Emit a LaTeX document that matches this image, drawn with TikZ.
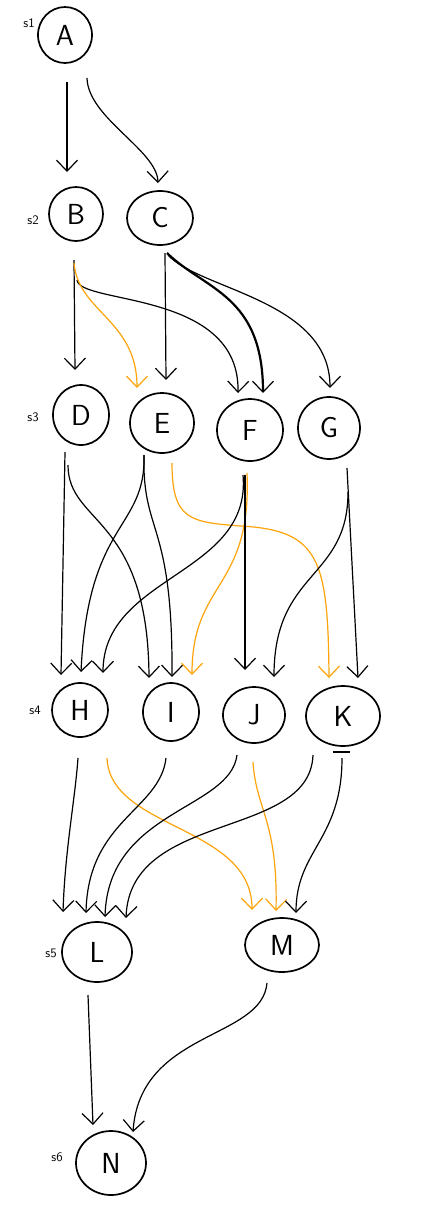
\documentclass[tikz,border=0pt]{standalone}
\usepackage{fontspec}
\usetikzlibrary{arrows.meta,shapes.geometric,calc}
\definecolor{hlorange}{RGB}{252,164,10}
\tikzset{
  st/.style={draw, ellipse, line width=1.7pt, inner sep=0pt, font=\sffamily\fontsize{29}{31}\selectfont},
  lvl/.style={font=\sffamily\fontsize{13}{14}\selectfont, inner sep=0pt},
  edge/.style={line width=1.2pt, -{Straight Barb[length=11pt,width=21pt,line width=1.2pt]}},
  hot/.style={edge, draw=hlorange, -{Straight Barb[length=11pt,width=21pt,line width=1.2pt,color=hlorange]}},
}
\begin{document}
\begin{tikzpicture}[x=1pt,y=-1pt]
\useasboundingbox (0,0) rectangle (446,1216);
\fill[white] (0,0) rectangle (446,1216);
% states
\node[st, minimum width=54pt, minimum height=56pt] (A) at (65,35) {A};
\node[st, minimum width=54pt, minimum height=54pt] (B) at (76,214) {B};
\node[st, minimum width=66pt, minimum height=54pt] (C) at (160,218) {C};
\node[st, minimum width=56pt, minimum height=60pt] (D) at (81,415) {D};
\node[st, minimum width=64pt, minimum height=60pt] (E) at (162,423) {E};
\node[st, minimum width=66pt, minimum height=62pt] (F) at (250,430) {F};
\node[st, minimum width=62pt, minimum height=62pt] (G) at (329,428) {G};
\node[st, minimum width=56pt, minimum height=54pt] (H) at (80,710) {H};
\node[st, minimum width=56pt, minimum height=58pt] (I) at (171,712) {I};
\node[st, minimum width=62pt, minimum height=56pt] (J) at (254,715) {J};
\node[st, minimum width=74pt, minimum height=60pt] (K) at (343,716) {K};
\node[st, minimum width=70pt, minimum height=60pt] (L) at (97,952) {L};
\node[st, minimum width=74pt, minimum height=54pt] (M) at (282,945) {M};
\node[st, minimum width=70pt, minimum height=64pt] (N) at (111,1163) {N};
% level labels
\node[lvl] (s1) at (29,23) {s1};
\node[lvl] (s2) at (33,220) {s2};
\node[lvl] (s3) at (33,417) {s3};
\node[lvl] (s4) at (35,710) {s4};
\node[lvl] (s5) at (51,953) {s5};
\node[lvl] (s6) at (57,1157) {s6};
% level 1 -> 2
\draw[edge] ($(A)+(2,47)$) -- ($(B)+(-9,-42)$);
\draw[edge] ($(A)+(22,43)$) .. controls (88,118) and (157,150) .. ($(C)+(-2,-35)$);
% level 2 -> 3
\draw[edge] ($(B)+(-2,46)$) -- ($(D)+(-6,-45)$);
\draw[edge] ($(B)+(1,66)$) .. controls (80,305) and (240,290) .. ($(F)+(-12,-37)$);
\draw[hot] ($(B)+(-2,49)$) .. controls (78,312) and (137,320) .. ($(E)+(-25,-35)$);
\draw[edge] ($(C)+(5,35)$) -- ($(E)+(4,-43)$);
\draw[edge, line width=2.2pt] ($(C)+(7,35)$) .. controls (205,290) and (263,295) .. ($(F)+(13,-37)$);
\draw[edge] ($(C)+(8,37)$) .. controls (200,290) and (330,300) .. ($(G)+(1,-40)$);
% level 3 -> 4
\draw[edge] ($(D)+(-16,37)$) -- ($(H)+(-19,-35)$);
\draw[edge] ($(D)+(-13,50)$) .. controls (68,525) and (148,515) .. ($(I)+(-22,-34)$);
\draw[edge] ($(E)+(-18,32)$) .. controls (146,530) and (88,520) .. ($(H)+(1,-38)$);
\draw[edge] ($(E)+(-18,32)$) .. controls (142,535) and (173,520) .. ($(I)+(1,-35)$);
\draw[hot] ($(E)+(10,40)$) .. controls (172,520) and (190,522) .. (240,526) .. controls (320,530) and (328,560) .. ($(K)+(-14,-38)$);
\draw[edge] ($(F)+(-7,45)$) .. controls (252,575) and (103,575) .. ($(H)+(23,-37)$);
\draw[hot] ($(F)+(-3,43)$) .. controls (252,590) and (192,580) .. ($(I)+(21,-37)$);
\draw[edge] ($(F)+(-5,45)$) -- ($(J)+(-9,-45)$);
\draw[edge] ($(G)+(19,64)$) .. controls (348,580) and (274,570) .. ($(J)+(20,-38)$);
\draw[edge] ($(G)+(18,40)$) -- ($(K)+(15,-38)$);
% level 4 -> 5
\draw[edge] ($(H)+(-2,48)$) .. controls (75,800) and (65,850) .. ($(L)+(-34,-40)$);
\draw[hot] ($(H)+(27,48)$) .. controls (110,830) and (252,825) .. ($(M)+(-30,-35)$);
\draw[edge] ($(I)+(-5,46)$) .. controls (160,810) and (88,820) .. ($(L)+(-11,-39)$);
\draw[edge] ($(J)+(-17,40)$) .. controls (230,810) and (108,810) .. ($(L)+(8,-35)$);
\draw[hot] ($(J)+(-1,47)$) .. controls (256,810) and (278,820) .. ($(M)+(-6,-34)$);
\draw[edge] ($(K)+(-30,39)$) .. controls (310,840) and (130,810) .. ($(L)+(29,-34)$);
\draw[edge] ($(K)+(-1,42)$) .. controls (342,840) and (296,850) .. ($(M)+(14,-32)$);
\draw[line width=1.2pt] ($(K)+(-10,36)$) -- ($(K)+(7,36)$);
% level 5 -> 6
\draw[edge] ($(L)+(-9,43)$) -- ($(N)+(-18,-38)$);
\draw[edge] ($(M)+(-15,38)$) .. controls (262,1040) and (140,1030) .. ($(N)+(22,-31)$);
\end{tikzpicture}
\end{document}
